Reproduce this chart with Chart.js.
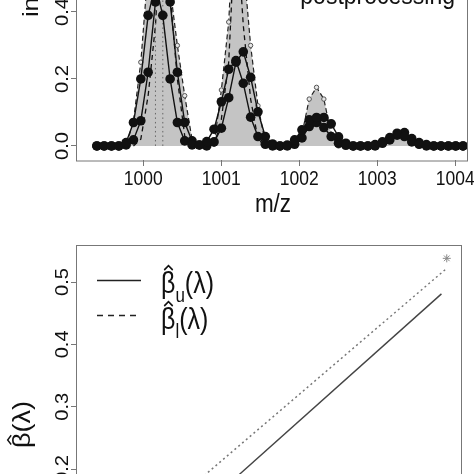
<!DOCTYPE html>
<html>
<head>
<meta charset="utf-8">
<script src="https://cdn.jsdelivr.net/npm/chart.js@4.4.0/dist/chart.umd.min.js"></script>
<style>
  html, body { margin: 0; padding: 0; width: 474px; height: 474px; overflow: hidden; background: #fff; }
  .wrap { position: absolute; left: 0; width: 474px; }
  #topWrap { top: -40px; }
  #botWrap { top: 235px; }
</style>
</head>
<body>
<div class="wrap" id="topWrap"><canvas id="spectrum" width="474" height="260"></canvas></div>
<div class="wrap" id="botWrap"><canvas id="beta" width="474" height="350"></canvas></div>
<script>
// ---- top panel: spectrum after postprocessing ----
const mz = [999.405, 999.498, 999.592, 999.686, 999.780, 999.874, 999.968, 1000.062, 1000.156, 1000.250,
  1000.344, 1000.437, 1000.531, 1000.625, 1000.719, 1000.813, 1000.907, 1001.001, 1001.095, 1001.188,
  1001.282, 1001.376, 1001.470, 1001.564, 1001.658, 1001.752, 1001.846, 1001.940, 1002.034, 1002.127,
  1002.221, 1002.315, 1002.409, 1002.503, 1002.597, 1002.691, 1002.785, 1002.879, 1002.972, 1003.066,
  1003.160, 1003.254, 1003.348, 1003.442, 1003.536, 1003.630, 1003.724, 1003.817, 1003.911, 1004.005, 1004.099];
const rawIntensity = [0, 0, 0, 0, 0, 0.075, 0.25, 0.53, 0.78, 0.8,
  0.47, 0.3, 0.15, 0.02, 0, 0, 0.005, 0.167, 0.37, 0.8,
  0.55, 0.3, 0.12, 0.01, 0, 0, 0, 0.003, 0.035, 0.14,
  0.175, 0.14, 0.035, 0, 0, 0, 0, 0, 0, 0.005,
  0.02, 0.04, 0.03, 0.01, 0, 0, 0, 0, 0, 0, 0];
const seriesA = [0, 0, 0, 0, 0.01, 0.07, 0.2, 0.39, 0.48, 0.39,
  0.2, 0.07, 0.015, 0.003, 0.003, 0.013, 0.05, 0.132, 0.229, 0.255,
  0.187, 0.086, 0.028, 0.005, 0, 0, 0.003, 0.018, 0.048, 0.078,
  0.085, 0.055, 0.028, 0.008, 0.002, 0, 0, 0, 0.004, 0.012,
  0.025, 0.038, 0.028, 0.012, 0.005, 0, 0, 0, 0, 0, 0];
const seriesB = [0, 0, 0, 0, 0.003, 0.018, 0.075, 0.22, 0.43, 0.52,
  0.43, 0.22, 0.07, 0.015, 0.003, 0, 0.012, 0.053, 0.144, 0.25,
  0.281, 0.205, 0.102, 0.028, 0.006, 0, 0, 0.005, 0.024, 0.058,
  0.07, 0.085, 0.066, 0.027, 0.008, 0, 0, 0, 0, 0.008,
  0.018, 0.032, 0.04, 0.022, 0.01, 0.004, 0, 0, 0, 0, 0];
const seriesC = [null, null, null, null, null, 0, 0.02, 0.15, 0.36, 0.75,
  0.45, 0.2, 0.03, 0, null, null, 0, 0.08, 0.25, 0.7,
  0.36, 0.14, 0.02, 0, null, null, null, null, null, null,
  null, null, null, null, null, null, null, null, null, null,
  null, null, null, null, null, null, null, null, null, null, null];
const peakCentres = [1000.156, 1000.25];
const mzTicks = [1000, 1001, 1002, 1003, 1004];
const intensityTicks = [0.0, 0.2, 0.4];

// ---- bottom panel: beta(lambda) ----
const lambdaU = [0.3, 0.985];
const betaU = [0.132, 0.481];
const lambdaL = [0.2, 1.0];
const betaL = [0.132, 0.522];
const lambdaStar = [1.0];
const betaStar = [0.538];
const betaTicks = [0.2, 0.3, 0.4, 0.5];

const FONT = '"Liberation Sans", Arial, Helvetica, sans-serif';
const SY = 1.15;          // the figure is a little stretched vertically
const TOP_OFF = -40, BOT_OFF = 235;
Chart.defaults.font.family = FONT;

function drawText(ctx, str, x, y, size, align, rotate) {
  ctx.save();
  ctx.translate(x, y);
  ctx.scale(1, SY);
  if (rotate) ctx.rotate(-Math.PI / 2);
  ctx.font = size + 'px ' + FONT;
  ctx.textAlign = align;
  ctx.textBaseline = 'alphabetic';
  ctx.fillStyle = '#111';
  ctx.fillText(str, 0, 0);
  ctx.restore();
}

// beta with a hat, optional subscript, then (lambda)
function drawBeta(ctx, x, y, size, sub, rotate) {
  ctx.save();
  ctx.translate(x, y);
  ctx.scale(1, SY);
  if (rotate) ctx.rotate(-Math.PI / 2);
  ctx.fillStyle = '#111';
  ctx.strokeStyle = '#111';
  ctx.textBaseline = 'alphabetic';
  ctx.textAlign = 'left';
  ctx.font = size + 'px ' + FONT;
  ctx.fillText('\u03b2', 0, 0);
  let w = ctx.measureText('\u03b2').width;
  const cx = w * 0.52;
  ctx.lineWidth = size * 0.06;
  ctx.beginPath();
  ctx.moveTo(cx - size * 0.17, -size * 0.8);
  ctx.lineTo(cx, -size * 0.95);
  ctx.lineTo(cx + size * 0.17, -size * 0.8);
  ctx.stroke();
  if (sub) {
    ctx.font = (size * 0.68) + 'px ' + FONT;
    ctx.fillText(sub, w, size * 0.3);
    w += ctx.measureText(sub).width;
  }
  ctx.font = size + 'px ' + FONT;
  ctx.fillText('(\u03bb)', w, 0);
  ctx.restore();
}

function drawBox(chart) {
  const a = chart.chartArea, ctx = chart.ctx;
  ctx.save();
  ctx.strokeStyle = '#777';
  ctx.lineWidth = 1;
  ctx.strokeRect(Math.round(a.left) - 0.5, Math.round(a.top) + 0.5,
    Math.round(a.right - a.left) + 1, Math.round(a.bottom - a.top) - 0.5);
  ctx.restore();
}

const tickGrid = { display: true, drawOnChartArea: false, drawTicks: true, tickLength: 6, color: '#777', lineWidth: 1 };

const spectrumText = {
  id: 'spectrumText',
  afterDraw(chart) {
    const ctx = chart.ctx, sx = chart.scales.x, sy = chart.scales.y;
    drawBox(chart);
    intensityTicks.forEach(v => drawText(ctx, v.toFixed(1), 68, sy.getPixelForValue(v), 17.5, 'center', true));
    mzTicks.forEach(v => drawText(ctx, String(v), sx.getPixelForValue(v), 185 - TOP_OFF, 17.5, 'center', false));
    drawText(ctx, 'intensity', 38, 17 - TOP_OFF, 22, 'left', true);
    drawText(ctx, 'm/z', 273, 212 - TOP_OFF, 22.5, 'center', false);
    drawText(ctx, 'postprocessing', 455, 4 - TOP_OFF, 23, 'right', false);
  }
};

const pts = arr => mz.map((x, i) => ({ x: x, y: arr[i] }));

new Chart(document.getElementById('spectrum'), {
  type: 'line',
  data: {
    datasets: [
      {
        data: pts(seriesA), order: 1, borderColor: '#111', borderWidth: 1.4,
        pointRadius: 4.8, pointBackgroundColor: '#111', pointBorderWidth: 0, tension: 0
      },
      {
        data: pts(seriesB), order: 2, borderColor: '#111', borderWidth: 1.4,
        pointRadius: 4.8, pointBackgroundColor: '#111', pointBorderWidth: 0, tension: 0
      },
      {
        data: [{ x: peakCentres[0], y: 0 }, { x: peakCentres[0], y: 0.5 }], order: 3,
        borderColor: '#666', borderWidth: 1, borderDash: [1.5, 3], pointRadius: 0
      },
      {
        data: [{ x: peakCentres[1], y: 0 }, { x: peakCentres[1], y: 0.5 }], order: 3,
        borderColor: '#666', borderWidth: 1, borderDash: [1.5, 3], pointRadius: 0
      },
      {
        data: pts(seriesC), order: 4, borderColor: '#111', borderWidth: 1.3, borderDash: [5, 4],
        pointRadius: 0, spanGaps: false, tension: 0
      },
      {
        data: pts(rawIntensity), order: 5, borderColor: '#222', borderWidth: 1.2, borderDash: [5, 3],
        backgroundColor: '#c4c4c4', fill: 'origin', tension: 0,
        pointRadius: 2.2, pointBackgroundColor: '#e6e6e6', pointBorderColor: '#555', pointBorderWidth: 1
      }
    ]
  },
  options: {
    responsive: false,
    animation: false,
    events: [],
    layout: { padding: { top: 18.5, right: 7, left: 0, bottom: 0 } },
    plugins: { legend: { display: false }, tooltip: { enabled: false } },
    scales: {
      x: {
        type: 'linear', min: 999.15, max: 1004.15,
        afterBuildTicks: s => { s.ticks = mzTicks.map(v => ({ value: v })); },
        afterFit: s => { s.height = 60; },
        grid: tickGrid, border: { display: false }, ticks: { display: false }
      },
      y: {
        min: -0.042, max: 0.5,
        afterBuildTicks: s => { s.ticks = intensityTicks.map(v => ({ value: v })); },
        afterFit: s => { s.width = 77; },
        grid: tickGrid, border: { display: false }, ticks: { display: false }
      }
    }
  },
  plugins: [spectrumText]
});

const betaText = {
  id: 'betaText',
  afterDraw(chart) {
    const ctx = chart.ctx, sy = chart.scales.y;
    drawBox(chart);
    betaTicks.forEach(v => drawText(ctx, v.toFixed(1), 68, sy.getPixelForValue(v), 17.5, 'center', true));
    drawBeta(ctx, 30, 448 - BOT_OFF, 23.5, null, true);
    // legend
    ctx.save();
    ctx.strokeStyle = '#222';
    ctx.lineWidth = 1.5;
    ctx.beginPath(); ctx.moveTo(97, 280.5 - BOT_OFF); ctx.lineTo(141, 280.5 - BOT_OFF); ctx.stroke();
    ctx.setLineDash([6, 5]);
    ctx.beginPath(); ctx.moveTo(97, 315.5 - BOT_OFF); ctx.lineTo(141, 315.5 - BOT_OFF); ctx.stroke();
    ctx.restore();
    drawBeta(ctx, 161, 293 - BOT_OFF, 25, 'u', false);
    drawBeta(ctx, 161, 329 - BOT_OFF, 25, 'l', false);
  }
};

new Chart(document.getElementById('beta'), {
  type: 'line',
  data: {
    datasets: [
      {
        data: lambdaU.map((x, i) => ({ x: x, y: betaU[i] })),
        borderColor: '#444', borderWidth: 1.4, pointRadius: 0
      },
      {
        data: lambdaL.map((x, i) => ({ x: x, y: betaL[i] })),
        borderColor: '#777', borderWidth: 1.5, borderDash: [2, 3], pointRadius: 0
      },
      {
        data: lambdaStar.map((x, i) => ({ x: x, y: betaStar[i] })),
        showLine: false, pointStyle: 'star', pointRadius: 4, borderColor: '#888', borderWidth: 1
      }
    ]
  },
  options: {
    responsive: false,
    animation: false,
    events: [],
    layout: { padding: { top: 10, right: 13, left: 0, bottom: 0 } },
    plugins: { legend: { display: false }, tooltip: { enabled: false } },
    scales: {
      x: {
        type: 'linear', min: -0.04, max: 1.04,
        afterFit: s => { s.height = 40; },
        grid: { display: false }, border: { display: false }, ticks: { display: false }
      },
      y: {
        min: 0.0781, max: 0.5594,
        afterBuildTicks: s => { s.ticks = betaTicks.map(v => ({ value: v })); },
        afterFit: s => { s.width = 77; },
        grid: tickGrid, border: { display: false }, ticks: { display: false }
      }
    }
  },
  plugins: [betaText]
});
</script>
</body>
</html>
